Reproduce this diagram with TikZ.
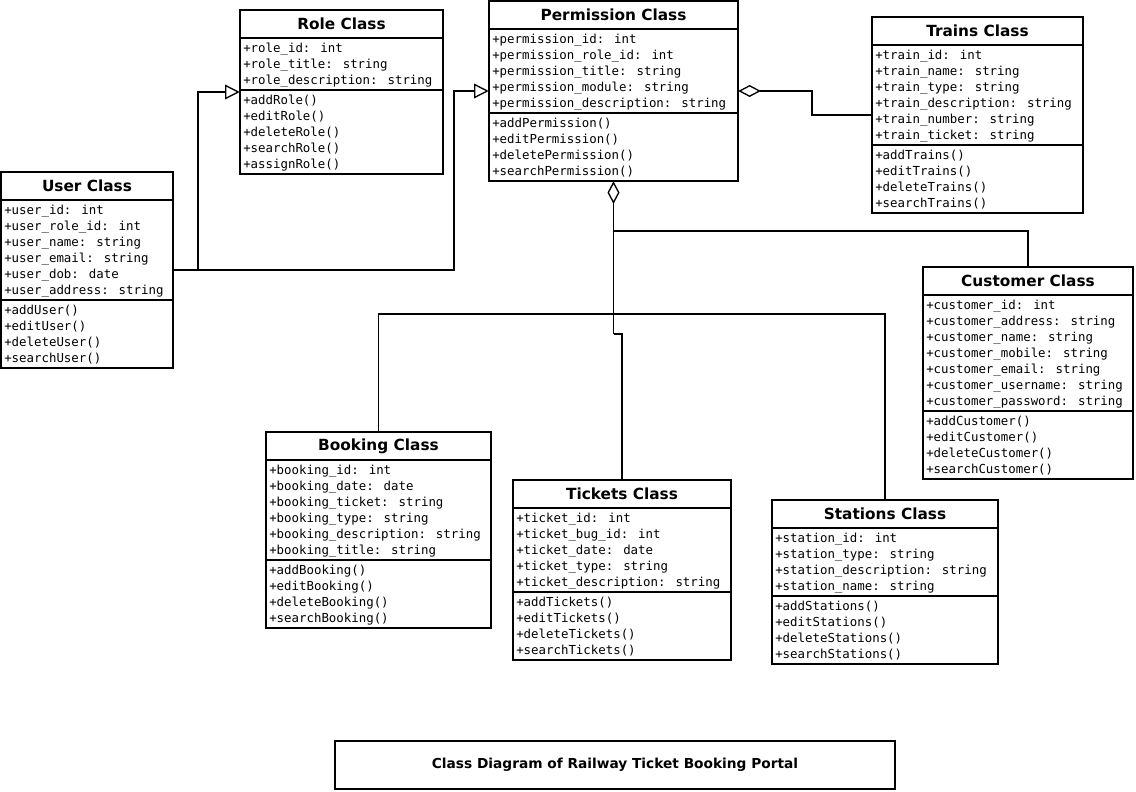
\documentclass[tikz,border=0pt]{standalone}
\usepackage{fontspec}
\setmainfont{DejaVu Sans}
\newfontfamily\monof{DejaVu Sans Mono}
\usetikzlibrary{arrows.meta,fit}
\tikzset{
  clsline/.style={line width=1pt},
  membertext/.style={anchor=north west,inner sep=0pt,align=left,font=\monof\fontsize{9.3}{12}\selectfont},
  titletext/.style={inner sep=0pt,font=\bfseries\fontsize{11.5}{12}\selectfont},
  inh/.style={line width=1pt,-{Triangle[open,length=11pt,width=11pt]}},
  agg/.style={line width=1pt,{Diamond[open,length=17pt,width=9pt]}-},
  conn/.style={line width=1pt}
}
\newcommand\umlcls[9]{%
  \pgfmathsetmacro\hA{16*#5+4}%
  \pgfmathsetmacro\hM{16*#6+4}%
  \draw[clsline] (#2,#3) rectangle ({#2+#4},{#3+28+\hA+\hM});
  \node[inner sep=0pt,fit={(#2,#3)({#2+#4},{#3+28+\hA+\hM})}] (#1) {};
  \draw[clsline] (#2,{#3+28}) -- ({#2+#4},{#3+28});
  \draw[clsline] (#2,{#3+28+\hA}) -- ({#2+#4},{#3+28+\hA});
  \node[titletext] at ({#2+#4/2},{#3+14}) {#7};
  \node[membertext] at ({#2+3},{#3+33}) {#8};
  \node[membertext] at ({#2+3},{#3+33+\hA}) {#9};
}
\begin{document}
\begin{tikzpicture}[x=0.75pt,y=-0.75pt]
\useasboundingbox (0,0) rectangle (1136,792);
\umlcls{role}{240}{10}{203}{3}{5}{Role Class}
 {+role\_id: int\\+role\_title: string\\+role\_description: string}
 {+addRole()\\+editRole()\\+deleteRole()\\+searchRole()\\+assignRole()}
\umlcls{perm}{489}{1}{249}{5}{4}{Permission Class}
 {+permission\_id: int\\+permission\_role\_id: int\\+permission\_title: string\\+permission\_module: string\\+permission\_description: string}
 {+addPermission()\\+editPermission()\\+deletePermission()\\+searchPermission()}
\umlcls{trains}{872}{17}{211}{6}{4}{Trains Class}
 {+train\_id: int\\+train\_name: string\\+train\_type: string\\+train\_description: string\\+train\_number: string\\+train\_ticket: string}
 {+addTrains()\\+editTrains()\\+deleteTrains()\\+searchTrains()}
\umlcls{user}{1}{172}{172}{6}{4}{User Class}
 {+user\_id: int\\+user\_role\_id: int\\+user\_name: string\\+user\_email: string\\+user\_dob: date\\+user\_address: string}
 {+addUser()\\+editUser()\\+deleteUser()\\+searchUser()}
\umlcls{cust}{923}{267}{210}{7}{4}{Customer Class}
 {+customer\_id: int\\+customer\_address: string\\+customer\_name: string\\+customer\_mobile: string\\+customer\_email: string\\+customer\_username: string\\+customer\_password: string}
 {+addCustomer()\\+editCustomer()\\+deleteCustomer()\\+searchCustomer()}
\umlcls{book}{266}{432}{225}{6}{4}{Booking Class}
 {+booking\_id: int\\+booking\_date: date\\+booking\_ticket: string\\+booking\_type: string\\+booking\_description: string\\+booking\_title: string}
 {+addBooking()\\+editBooking()\\+deleteBooking()\\+searchBooking()}
\umlcls{tick}{513}{480}{218}{5}{4}{Tickets Class}
 {+ticket\_id: int\\+ticket\_bug\_id: int\\+ticket\_date: date\\+ticket\_type: string\\+ticket\_description: string}
 {+addTickets()\\+editTickets()\\+deleteTickets()\\+searchTickets()}
\umlcls{stat}{772}{500}{226}{4}{4}{Stations Class}
 {+station\_id: int\\+station\_type: string\\+station\_description: string\\+station\_name: string}
 {+addStations()\\+editStations()\\+deleteStations()\\+searchStations()}
% connectors
\draw[inh] (user.east) -- (198,270) |- (role.west);
\draw[inh] (user.east) -- (454,270) |- (perm.west);
\draw[agg] (perm.east) -- (812,91) |- (trains.west);
\draw[agg] (perm.south) -- (613.5,334);
\coordinate (j1) at (613.5,231);
\coordinate (j2) at (613.5,314);
\coordinate (j3) at (613.5,334);
\draw[conn] (j1) -| (cust.north);
\draw[conn] (book.north) |- (j2);
\draw[conn] (stat.north) |- (j2);
\draw[conn] (tick.north) |- (j3);
% caption
\node[draw,line width=1pt,minimum width=420pt,minimum height=36pt,font=\bfseries\fontsize{10.3}{12}\selectfont] (cap) at (615,765) {Class Diagram of Railway Ticket Booking Portal};
\end{tikzpicture}
\end{document}
